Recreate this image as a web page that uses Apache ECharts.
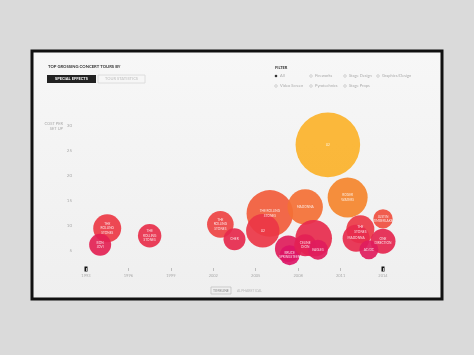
<!DOCTYPE html>
<html>
<head>
<meta charset="utf-8">
<script src="https://cdn.jsdelivr.net/npm/echarts@6/dist/echarts.min.js"></script>
<style>
html, body { margin: 0; padding: 0; background: #d9d9d9; }
#main { width: 474px; height: 355px; }
</style>
</head>
<body>
<div id="main"></div>
<script>
// tick labels of the timeline (one every 3 years)
var yearTicks = ['1993', '1996', '1999', '2002', '2005', '2008', '2011', '2014'];
var yearStep = 3;
var costTicks = [5, 10, 15, 20, 25, 30];

// tours: year, cost per set up, gross (bubble size)
var tourYears = [2006.0, 1994.5, 1994.0, 1997.5, 2002.5, 2003.5, 2005.5, 2008.5, 2009.1, 2007.3, 2007.4, 2008.5, 2009.4, 2010.1, 2011.5, 2012.4, 2012.1, 2014.0, 2014.0, 2013.0];
var tourCosts = [12.4, 9.4, 6.1, 7.9, 10.2, 7.2, 8.9, 13.7, 7.4, 5.3, 4.0, 6.0, 5.1, 26.2, 15.6, 9.2, 7.4, 11.3, 6.8, 5.1];
var tourGross = [233, 140, 110, 117, 133, 110, 167, 177, 183, 133, 100, 110, 100, 323, 200, 140, 135, 97, 125, 95];
var tourLabels = [
    'THE ROLLING\nSTONES', 'THE\nROLLING\nSTONES', 'BON\nJOVI', 'THE\nROLLING\nSTONES', 'THE\nROLLING\nSTONES',
    'CHER', 'U2', 'MADONNA', '', '', 'BRUCE\nSPRINGSTEEN', 'CELINE\nDION', 'EAGLES', 'U2', 'ROGER\nWATERS',
    'THE\nSTONES', 'MADONNA', 'JUSTIN\nTIMBERLAKE', 'ONE\nDIRECTION', 'AC/DC'
];

var font = 'Lato, "Open Sans", sans-serif';

var myChart = echarts.init(document.getElementById('main'));

var points = [];
for (var i = 0; i < tourYears.length; i++) {
    points.push([(tourYears[i] - +yearTicks[0]) / yearStep, tourCosts[i], tourGross[i]]);
}

var option = {
    backgroundColor: '#dadada',
    animation: false,
    grid: { left: 86, right: 91, top: 126, bottom: 80 },
    xAxis: {
        type: 'value',
        min: 0,
        max: yearTicks.length - 1,
        interval: 1,
        offset: -4,
        splitLine: { show: false },
        axisLine: { show: false },
        axisTick: { show: true, inside: true, length: 3, lineStyle: { color: '#bdbdbd' } },
        axisLabel: {
            margin: 3,
            color: '#aaa',
            fontSize: 4,
            fontFamily: font,
            formatter: function(v) { return yearTicks[v] || ''; }
        }
    },
    yAxis: {
        type: 'value',
        min: 0,
        max: costTicks[costTicks.length - 1],
        interval: costTicks[1] - costTicks[0],
        splitLine: { show: false },
        axisLine: { show: false },
        axisTick: { show: false },
        axisLabel: {
            margin: 14,
            color: '#aaa',
            fontSize: 4.5,
            fontFamily: font,
            formatter: function(v) { return v === 0 ? '' : v; }
        }
    },
    visualMap: {
        show: false,
        dimension: 1,
        seriesIndex: 0,
        min: 4,
        max: 26,
        inRange: {
            color: ['#dc1566', '#e5264f', '#ed3b45', '#f25a3c', '#f5832e', '#f7922b', '#f99e2a', '#faa82a', '#fbb22a']
        }
    },
    series: [{
        type: 'scatter',
        clip: false,
        data: points,
        symbolSize: function(d) { return d[2] / 5; },
        itemStyle: { opacity: 0.92 },
        label: {
            show: true,
            position: 'inside',
            color: 'rgba(255,255,255,0.9)',
            fontSize: 3.2,
            lineHeight: 4.4,
            fontFamily: font,
            formatter: function(p) { return tourLabels[p.dataIndex]; }
        }
    }]
};

myChart.setOption(option);

// slider handles at the ends of the timeline
var h0 = myChart.convertToPixel({ gridIndex: 0 }, [0, 0]);
var h1 = myChart.convertToPixel({ gridIndex: 0 }, [yearTicks.length - 1, 0]);

var small = { fontSize: 4, fontFamily: font, fill: '#aaa' };
function txt(x, y, s, style) {
    return { type: 'text', x: x, y: y, style: Object.assign({ text: s, textVerticalAlign: 'middle' }, small, style || {}) };
}
function radio(x, y, s, on) {
    return [
        { type: 'circle', shape: { cx: x, cy: y, r: 1.3 }, style: on ? { fill: '#333' } : { fill: 'none', stroke: '#bbb', lineWidth: 0.6 } },
        txt(x + 4, y, s)
    ];
}

var elements = [
    // screen frame
    { type: 'rect', shape: { x: 32, y: 51, width: 410, height: 248 },
      style: { fill: new echarts.graphic.LinearGradient(0, 0, 0, 1, [{ offset: 0, color: '#f7f7f7' }, { offset: 1, color: '#efefef' }]), stroke: '#111', lineWidth: 3 }, z: -10 },
    txt(48, 67, 'TOP GROSSING CONCERT TOURS BY', { fill: '#333', fontWeight: 'bold', fontSize: 4.2 }),
    { type: 'rect', shape: { x: 47, y: 75, width: 49, height: 8 }, style: { fill: '#222' } },
    txt(71.5, 79, 'SPECIAL EFFECTS', { fill: '#fff', fontWeight: 'bold', textAlign: 'center' }),
    { type: 'rect', shape: { x: 98, y: 75, width: 47, height: 8 }, style: { fill: 'none', stroke: '#d8d8d8', lineWidth: 0.8 } },
    txt(121.5, 79, 'TOUR STATISTICS', { fill: '#ccc', fontWeight: 'bold', textAlign: 'center' }),
    txt(275, 68, 'FILTER', { fill: '#333', fontWeight: 'bold' }),
    txt(63, 124, 'COST PER', { textAlign: 'right' }),
    txt(63, 129, 'SET UP', { textAlign: 'right' }),
    { type: 'rect', shape: { x: 211, y: 287, width: 20, height: 7 }, style: { fill: 'none', stroke: '#bbb', lineWidth: 0.7 } },
    txt(221, 290.5, 'TIMELINE', { fill: '#888', fontSize: 3.5, textAlign: 'center' }),
    txt(237, 290.5, 'ALPHABETICAL', { fill: '#bbb', fontSize: 3.5 }),
    { type: 'rect', shape: { x: h0[0] - 1.5, y: h0[1] - 8.5, width: 3, height: 5 }, style: { fill: '#111' } },
    { type: 'rect', shape: { x: h1[0] - 1.5, y: h1[1] - 8.5, width: 3, height: 5 }, style: { fill: '#111' } }
];
elements = elements
    .concat(radio(276, 76, 'All', true))
    .concat(radio(311, 76, 'Fireworks'))
    .concat(radio(345, 76, 'Stage Design'))
    .concat(radio(378, 76, 'Graphics/Design'))
    .concat(radio(276, 86, 'Video Screen'))
    .concat(radio(311, 86, 'Pyrotechnics'))
    .concat(radio(345, 86, 'Stage Props'));

myChart.setOption({ graphic: { elements: elements } });
</script>
</body>
</html>
